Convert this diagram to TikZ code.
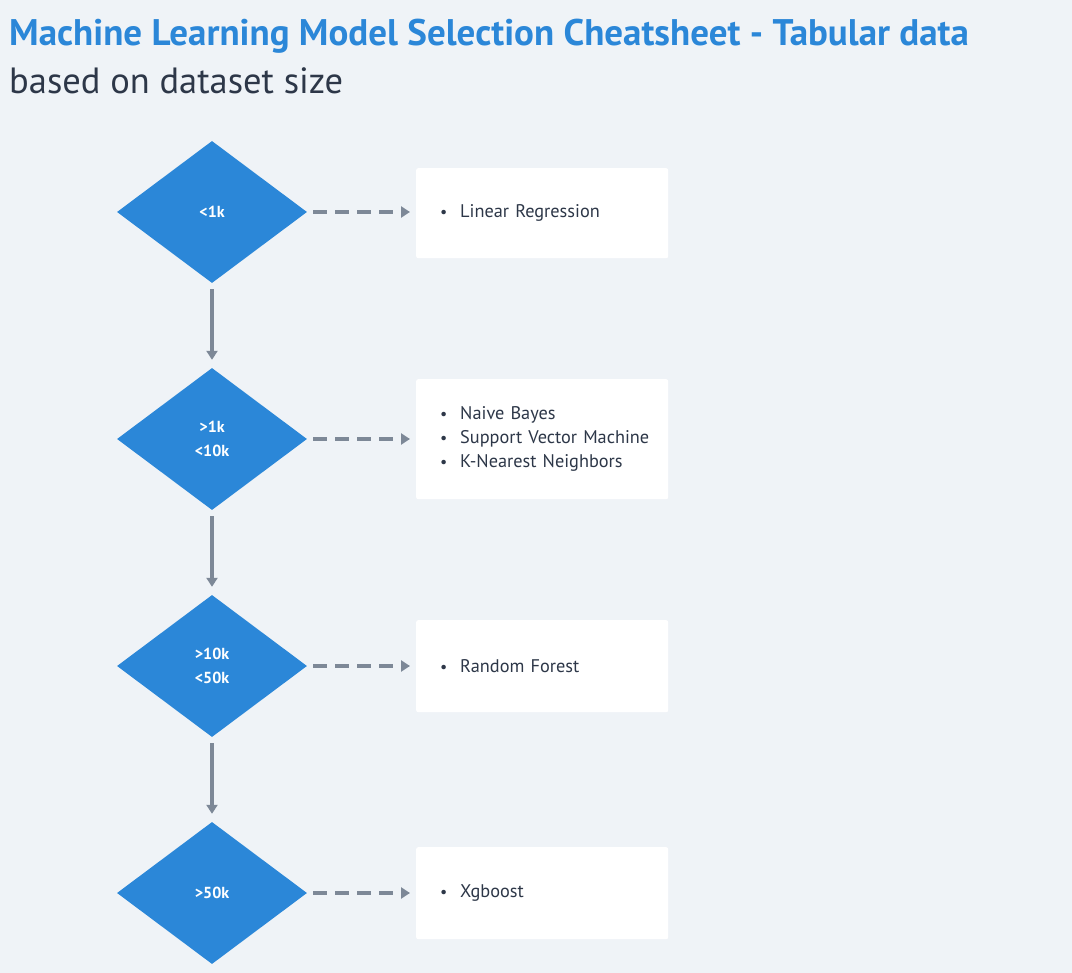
\documentclass[tikz,border=0pt]{standalone}
\usepackage{fontspec}
\setmainfont{PT Sans}
\usetikzlibrary{shapes.geometric,arrows.meta}
\definecolor{bg}{HTML}{EFF3F7}
\definecolor{mblue}{HTML}{2B87D8}
\definecolor{dtext}{HTML}{2D3748}
\definecolor{agray}{HTML}{7D8897}
\tikzset{
  dia/.style={diamond, fill=mblue, minimum width=190pt, minimum height=142pt, inner sep=0pt,
    text=white, font=\fontsize{16}{24}\selectfont\bfseries, align=center},
  mbox/.style={fill=white, rounded corners=2pt, minimum width=252pt, anchor=north west,
    text width=252pt, inner xsep=0pt, align=left, text=dtext, font=\fontsize{18.3}{24}\selectfont},
  vflow/.style={agray, line width=3.5pt, -{Triangle[length=9pt,width=11pt]}, shorten <=6pt, shorten >=8pt},
  dflow/.style={agray, line width=3.5pt, dash pattern=on 14pt off 8pt, -{Triangle[length=9pt,width=11pt]}, shorten <=6pt, shorten >=6pt}
}
\newcommand{\itm}[1]{\hspace*{24pt}\makebox[20pt][l]{\fontsize{16}{24}\selectfont\textbullet}#1}
\begin{document}
\begin{tikzpicture}[x=1pt,y=-1pt]
\fill[bg] (0,0) rectangle (1072,973);
\useasboundingbox (0,0) rectangle (1072,973);
\node[anchor=base west, inner sep=0pt, text=mblue, font=\fontsize{37}{40}\selectfont\bfseries] (title) at (9,46) {Machine Learning Model Selection Cheatsheet - Tabular data};
\node[anchor=base west, inner sep=0pt, text=dtext, font=\fontsize{36.5}{40}\selectfont] (sub) at (9,94) {based on dataset size};

\node[dia] (d1) at (212,212) {<1k};
\node[dia] (d2) at (212,439) {>1k\\<10k};
\node[dia] (d3) at (212,666) {>10k\\<50k};
\node[dia] (d4) at (212,893) {>50k};

\node[mbox, minimum height=90pt] (b1) at (416,168) {\itm{Linear Regression}};
\node[mbox, minimum height=120pt] (b2) at (416,379) {\itm{Naive Bayes}\\\itm{Support Vector Machine}\\\itm{K-Nearest Neighbors}};
\node[mbox, minimum height=92pt] (b3) at (416,620) {\itm{Random Forest}};
\node[mbox, minimum height=92pt] (b4) at (416,847) {\itm{Xgboost}};

\draw[vflow] (d1.south) -- (d2.north);
\draw[vflow] (d2.south) -- (d3.north);
\draw[vflow] (d3.south) -- (d4.north);
\draw[dflow] (d1.east) -- (b1.west |- d1.east);
\draw[dflow] (d2.east) -- (b2.west |- d2.east);
\draw[dflow] (d3.east) -- (b3.west |- d3.east);
\draw[dflow] (d4.east) -- (b4.west |- d4.east);
\end{tikzpicture}
\end{document}
